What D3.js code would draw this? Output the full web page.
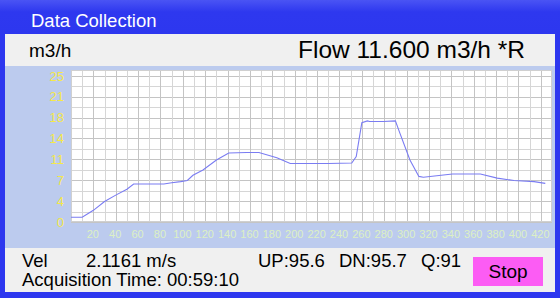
<!DOCTYPE html>
<html>
<head>
<meta charset="utf-8">
<script src="https://cdn.jsdelivr.net/npm/d3@7"></script>
<style>
  html, body { margin: 0; padding: 0; background: #2d37ef; }
  svg { display: block; font-family: "Liberation Sans", Arial, sans-serif; }
</style>
</head>
<body>
<svg id="panel"></svg>
<script>
const WIDTH = 560,
      HEIGHT = 298;

// readings (time index, m3/h)
const times = [0, 10, 20, 30, 40, 50, 56, 70, 83, 90, 98, 104, 109, 118, 130, 141, 157, 168, 184, 196, 230, 251, 255, 260, 265, 267, 279, 290, 294, 303, 311, 315, 327, 341, 366, 381, 396, 414, 424];
const flows = [0.8, 0.8, 2.0, 3.5, 4.6, 5.6, 6.5, 6.5, 6.5, 6.7, 6.9, 7.1, 8.0, 8.9, 10.6, 11.8, 11.9, 11.9, 11.0, 10.0, 10.0, 10.1, 11.2, 17.0, 17.3, 17.2, 17.2, 17.3, 15.2, 10.6, 7.8, 7.65, 7.9, 8.2, 8.2, 7.5, 7.1, 6.9, 6.6];

const yTickLabels = ["0", "4", "7", "11", "14", "18", "21", "25"];
const xTickValues = d3.range(20, 421, 20);

const title = "Data Collection";
const unitLabel = "m3/h";
const flowLabel = "Flow 11.600 m3/h *R";
const velLabel = "Vel";
const velValue = "2.1161 m/s";
const upLabel = "UP:95.6";
const dnLabel = "DN:95.7";
const qLabel = "Q:91";
const timeLabel = "Acquisition Time: 00:59:10";

const plot = { left: 71, right: 552, top: 70, bottom: 222 };

const svg = d3.select("svg#panel")
                .attr("width", WIDTH)
                .attr("height", HEIGHT);

const defs = svg.append("defs");
const grad = defs.append("linearGradient")
                .attr("id", "titleGrad")
                .attr("x1", 0).attr("y1", 0).attr("x2", 0).attr("y2", 1);
grad.append("stop").attr("offset", "0%").attr("stop-color", "#4a54f4");
grad.append("stop").attr("offset", "35%").attr("stop-color", "#2e38ef");
grad.append("stop").attr("offset", "100%").attr("stop-color", "#2d37ef");

// frame and bands
svg.append("rect").attr("width", WIDTH).attr("height", HEIGHT).attr("fill", "#2d37ef");
svg.append("rect").attr("width", WIDTH).attr("height", 34).attr("fill", "url(#titleGrad)");
svg.append("rect").attr("x", 5).attr("y", 34).attr("width", 550).attr("height", 32).attr("fill", "#f0f0f0");
svg.append("rect").attr("x", 5).attr("y", 66).attr("width", 550).attr("height", 182).attr("fill", "#bccbee");
svg.append("rect").attr("x", 5).attr("y", 248).attr("width", 550).attr("height", 44).attr("fill", "#f0f0f0");

// texts
svg.append("text").attr("x", 31).attr("y", 26.5)
    .attr("fill", "#ffffff").style("font-size", "18.5px").text(title);
svg.append("text").attr("x", 29).attr("y", 57)
    .attr("fill", "#000").style("font-size", "19px").text(unitLabel);
svg.append("text").attr("x", 525).attr("y", 57.5)
    .attr("text-anchor", "end")
    .attr("fill", "#000").style("font-size", "24.5px").text(flowLabel);

// scales
const xScale = d3.scaleLinear().domain([0, 430]).range([plot.left, plot.right]);
const yScale = d3.scaleLinear().domain([0, 26]).range([plot.bottom, plot.top]);

const g = svg.append("g");

g.append("rect")
    .attr("x", plot.left).attr("y", plot.top)
    .attr("width", plot.right - plot.left).attr("height", plot.bottom - plot.top)
    .attr("fill", "#ffffff");

// grid
const yGridValues = d3.range(0, 15).map((i) => i * 25 / 14);
const xGridValues = d3.range(10, 430, 10);

g.append("g")
    .selectAll("line")
    .data(yGridValues)
    .join("line")
        .attr("x1", plot.left).attr("x2", plot.right)
        .attr("y1", (d) => Math.round(yScale(d)) + 0.5)
        .attr("y2", (d) => Math.round(yScale(d)) + 0.5)
        .attr("stroke", (d, i) => i % 2 === 0 ? "#c4c4c4" : "#d6d6d6");

g.append("g")
    .selectAll("line")
    .data(xGridValues)
    .join("line")
        .attr("x1", (d) => Math.round(xScale(d)) + 0.5)
        .attr("x2", (d) => Math.round(xScale(d)) + 0.5)
        .attr("y1", plot.top).attr("y2", plot.bottom)
        .attr("stroke", (d) => d % 20 === 0 ? "#c4c4c4" : "#d6d6d6");

g.append("rect")
    .attr("x", plot.left + 0.5).attr("y", plot.top + 0.5)
    .attr("width", plot.right - plot.left - 1).attr("height", plot.bottom - plot.top - 1)
    .attr("fill", "none").attr("stroke", "#d0d0d0");

// axes
const yAxis = svg.append("g")
                .attr("transform", `translate(${plot.left}, 0)`)
                .call(d3.axisLeft(yScale)
                        .tickValues(yTickLabels.map((d, i) => i * 25 / 7))
                        .tickFormat((d, i) => yTickLabels[i])
                        .tickSize(0)
                        .tickPadding(7));
yAxis.select(".domain").remove();
yAxis.selectAll("text")
    .attr("fill", "#f5e84a")
    .style("font-family", "'Liberation Sans', Arial, sans-serif")
    .style("font-size", "13px");

const xAxis = svg.append("g")
                .attr("transform", `translate(0, ${plot.bottom})`)
                .call(d3.axisBottom(xScale)
                        .tickValues(xTickValues)
                        .tickSize(0)
                        .tickPadding(8));
xAxis.select(".domain").remove();
xAxis.selectAll("text")
    .attr("fill", "#dcf0c4")
    .attr("dx", "-1")
    .style("font-family", "'Liberation Sans', Arial, sans-serif")
    .style("font-size", "11px");

// trace
const line = d3.line()
                .x((d) => xScale(d[0]))
                .y((d) => yScale(d[1]));

g.append("path")
    .datum(times.map((t, i) => [t, flows[i]]))
    .attr("d", line)
    .attr("fill", "none")
    .attr("stroke", "#7a7cf2")
    .attr("stroke-width", 1.1);

// status rows
const status = svg.append("g").style("font-size", "18.5px").attr("fill", "#000");
status.append("text").attr("x", 22).attr("y", 267).text(velLabel);
status.append("text").attr("x", 86).attr("y", 267).text(velValue);
status.append("text").attr("x", 258).attr("y", 267).text(upLabel);
status.append("text").attr("x", 339).attr("y", 267).text(dnLabel);
status.append("text").attr("x", 421).attr("y", 267).text(qLabel);
status.append("text").attr("x", 22).attr("y", 286).text(timeLabel);

// stop button
svg.append("rect")
    .attr("x", 473).attr("y", 257)
    .attr("width", 70).attr("height", 29)
    .attr("fill", "#fc5cf4");
svg.append("text")
    .attr("x", 508).attr("y", 278)
    .attr("text-anchor", "middle")
    .style("font-size", "19px")
    .attr("fill", "#000")
    .text("Stop");
</script>
</body>
</html>
